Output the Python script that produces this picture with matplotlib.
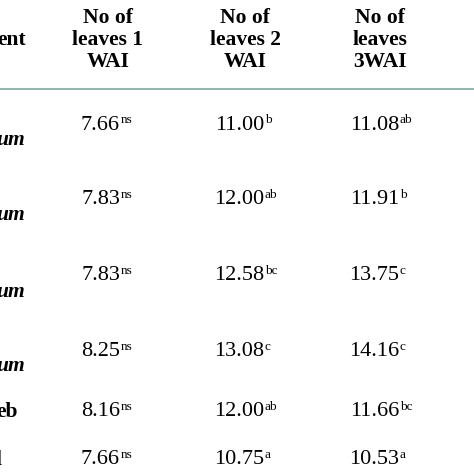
import matplotlib.pyplot as plt

headers = ["No of\nleaves 1\nWAI", "No of\nleaves 2\nWAI", "No of\nleaves\n3WAI"]
row_labels = ["um", "um", "um", "um", "eb", "l"]
row_italic = [True, True, True, True, False, False]
wai1 = ["7.66", "7.83", "7.83", "8.25", "8.16", "7.66"]
wai1_sup = ["ns", "ns", "ns", "ns", "ns", "ns"]
wai2 = ["11.00", "12.00", "12.58", "13.08", "12.00", "10.75"]
wai2_sup = ["b", "ab", "bc", "c", "ab", "a"]
wai3 = ["11.08", "11.91", "13.75", "14.16", "11.66", "10.53"]
wai3_sup = ["ab", "b", "c", "c", "bc", "a"]

fig = plt.figure(figsize=(4.74, 4.74), dpi=100)
ax = fig.add_axes([0, 0, 1, 1])
ax.set_xlim(0, 474)
ax.set_ylim(474, 0)
ax.axis('off')
font = 'Liberation Serif'

# header
col_centers = [108, 245, 380]
for x, h in zip(col_centers, headers):
    ax.text(x, 40, h, ha='center', va='center', fontsize=15.5, fontweight='bold',
            family=font, linespacing=1.15)
ax.text(-3, 40, "ent", ha='left', va='center', fontsize=15.5, fontweight='bold', family=font)
ax.axhline(89, color='#7fa8a0', lw=1.2)

# body
value_y = [125, 200, 276, 352, 412, 460]
label_y = [140, 215, 292, 366, 412, 460]
anchors = [120, 264, 399]
cols = [(wai1, wai1_sup), (wai2, wai2_sup), (wai3, wai3_sup)]
for i in range(len(value_y)):
    ax.text(-4, label_y[i], row_labels[i], ha='left', va='center', fontsize=15.5,
            fontweight='bold', style='italic' if row_italic[i] else 'normal', family=font)
    for xa, (vals, sups) in zip(anchors, cols):
        ax.text(xa, value_y[i], vals[i], ha='right', va='center', fontsize=16, family=font)
        ax.text(xa + 1, value_y[i] - 5, sups[i], ha='left', va='center', fontsize=9.5, family=font)

fig.savefig('out.png', dpi=100, facecolor='white')
